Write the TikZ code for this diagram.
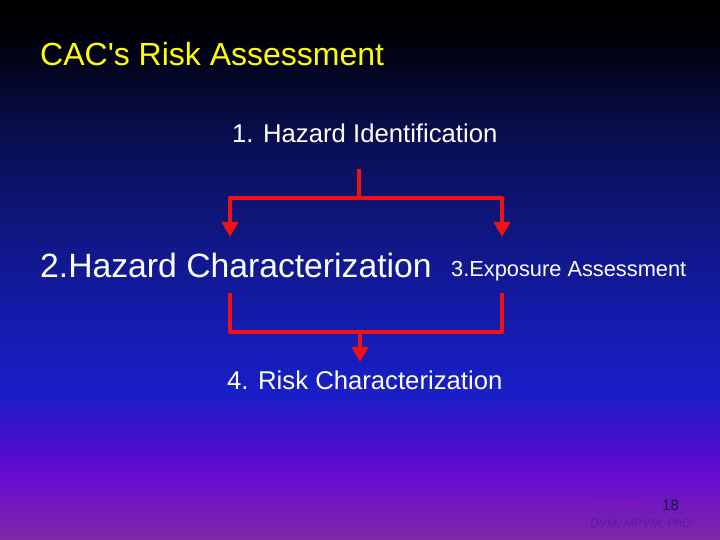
\documentclass[tikz,border=0pt]{standalone}
\usepackage{fontspec}
\setmainfont[Ligatures=TeXOff]{Liberation Sans}
\usetikzlibrary{arrows.meta}
\definecolor{titleyellow}{RGB}{255,255,0}
\definecolor{linkred}{RGB}{240,18,18}
\definecolor{pagenum}{RGB}{25,20,70}
\definecolor{faintred}{RGB}{135,22,185}
\definecolor{faintblue}{RGB}{92,22,178}
% the path is fitted to 25bp--75bp of the shading
\pgfdeclareverticalshading{slidebg}{100bp}{
rgb(0bp)=(0.49,0.16,0.65);
rgb(25bp)=(0.49,0.16,0.65);
rgb(31bp)=(0.41,0.04,0.82);
rgb(34.25bp)=(0.27,0.06,0.80);
rgb(38.5bp)=(0.10,0.12,0.78);
rgb(44.5bp)=(0.08,0.11,0.69);
rgb(53.5bp)=(0.06,0.09,0.51);
rgb(64bp)=(0.03,0.05,0.27);
rgb(71.5bp)=(0,0,0.04);
rgb(75bp)=(0,0,0);
rgb(100bp)=(0,0,0)}
\begin{document}
\begin{tikzpicture}[x=1pt,y=-1pt,
txt/.style={anchor=base west,inner sep=0pt,white},
link/.style={linkred,line width=4pt,line join=round},
linkarrow/.style={link,-{Triangle[width=16pt,length=15pt]}}]
\shade[shading=slidebg] (0,0) rectangle (720,540);
\useasboundingbox (0,0) rectangle (720,540);
\node[txt,titleyellow] (title) at (40,66) {\fontsize{32}{36}\selectfont CAC's Risk Assessment};
\node[txt] (ident) at (232,143) {\fontsize{25.7}{30}\selectfont 1. Hazard Identification};
\node[txt] (hazchar) at (40,277) {\fontsize{33.7}{38}\selectfont 2.Hazard Characterization};
\node[txt] (expo) at (451,276) {\fontsize{21.8}{26}\selectfont 3.Exposure Assessment};
\node[txt] (riskchar) at (227,389) {\fontsize{25.7}{30}\selectfont 4. Risk Characterization};
%top fork
\coordinate (stem) at (359,169);
\coordinate (fork) at (359,198);
\coordinate (tipL) at (230,237);
\coordinate (tipR) at (502,237);
\draw[link] (stem)--(fork);
\draw[linkarrow] (fork)-|(tipL);
\draw[linkarrow] (fork)-|(tipR);
%bottom join
\coordinate (legL) at (230,293);
\coordinate (legR) at (502,293);
\coordinate (join) at (360,332);
\coordinate (tipB) at (360,362);
\draw[link] (legL)|-(join)-|(legR);
\draw[linkarrow] (join)--(tipB);
%footer
\node[txt,faintred] (author) at (590,507) {\fontsize{14}{16}\selectfont Lecturer};
\node[txt,pagenum] (page) at (662,510) {\fontsize{15}{18}\selectfont 18};
\node[txt,faintblue] (degree) at (590,527) {\fontsize{12.2}{14}\selectfont\itshape DVM, MPVM, PhD};
\end{tikzpicture}
\end{document}
